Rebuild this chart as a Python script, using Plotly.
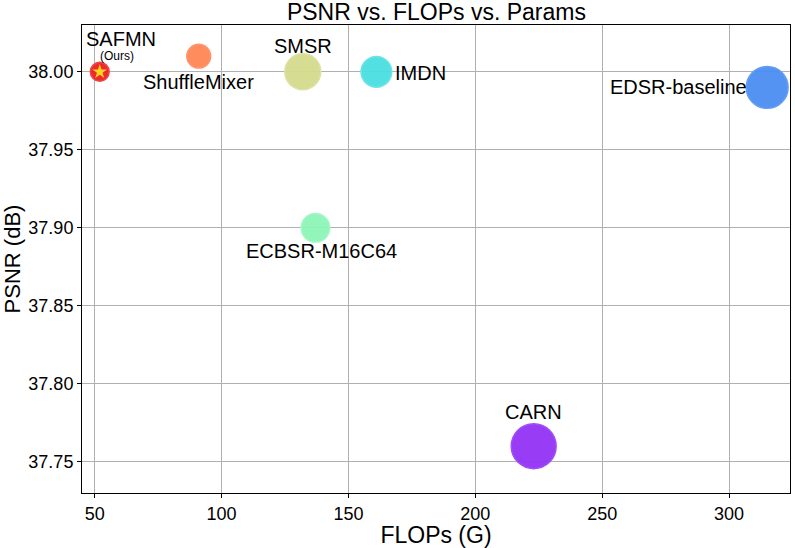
import numpy as np
import plotly.graph_objects as go

models = ["SAFMN", "ShuffleMixer", "SMSR", "IMDN", "ECBSR-M16C64", "EDSR-baseline", "CARN"]
flops = [52, 91, 132, 161, 137, 315, 223]
psnr = [38.00, 38.01, 38.00, 38.00, 37.90, 37.99, 37.76]
params_k = [228, 394, 985, 694, 596, 1370, 1592]

colors = ["rgba(236,32,36,0.95)", "rgba(255,134,84,0.95)", "rgba(212,218,140,0.95)",
          "rgba(74,222,226,0.95)", "rgba(140,244,182,0.95)", "rgba(76,141,242,0.95)",
          "rgba(146,50,246,0.95)"]
edge = ["rgb(240,70,70)", "rgb(255,150,110)", "rgb(222,226,165)", "rgb(110,228,232)",
        "rgb(165,246,200)", "rgb(100,158,244)", "rgb(160,80,250)"]

sizes = [np.sqrt(p) * 1.05 + 3 for p in params_k]

FONT = "Liberation Sans, Arial"

fig = go.Figure()
fig.add_trace(go.Scatter(
    x=flops, y=psnr, mode="markers",
    marker=dict(size=sizes, color=colors, opacity=1, line=dict(color=edge, width=1.5)),
    showlegend=False, hoverinfo="text", text=models))
fig.add_trace(go.Scatter(
    x=[flops[0]], y=[psnr[0]], mode="markers",
    marker=dict(symbol="star", size=11, color="#FFD21E", line=dict(width=0)),
    showlegend=False))

# label offsets (pixels): (xshift, yshift, xanchor)
offsets = {
    "SAFMN": (21, 33, "center"),
    "ShuffleMixer": (0, -26, "center"),
    "SMSR": (0, 26, "center"),
    "IMDN": (17, -1, "left"),
    "ECBSR-M16C64": (6, -23, "center"),
    "EDSR-baseline": (-18, 0, "right"),
    "CARN": (0, 34, "center"),
}
for m, x, y in zip(models, flops, psnr):
    dx, dy, xa = offsets[m]
    fig.add_annotation(x=x, y=y, text=m, showarrow=False, xshift=dx, yshift=dy,
                       xanchor=xa, yanchor="middle",
                       font=dict(size=20, color="black", family=FONT))
fig.add_annotation(x=flops[0], y=psnr[0], text="(Ours)", showarrow=False,
                   xshift=17, yshift=16, xanchor="center", yanchor="middle",
                   font=dict(size=12, color="black", family=FONT))

fig.update_layout(
    width=795, height=548,
    margin=dict(l=82, r=5, t=25, b=55, autoexpand=False),
    paper_bgcolor="white", plot_bgcolor="white",
    title=dict(text="PSNR vs. FLOPs vs. Params", x=0.549, xanchor="center",
               y=0.978, yanchor="middle", font=dict(size=23, color="black", family=FONT)),
    font=dict(family=FONT, color="black"),
)
fig.update_xaxes(range=[45, 324], tickvals=[50, 100, 150, 200, 250, 300],
                 showgrid=True, gridcolor="#b0b0b0", gridwidth=0.8,
                 showline=True, linecolor="black", linewidth=1, mirror=True,
                 ticks="outside", ticklen=4, tickcolor="black",
                 tickfont=dict(size=18, family=FONT), automargin=False,
                 title=dict(text="FLOPs (G)", font=dict(size=23, family=FONT), standoff=4),
                 zeroline=False)
fig.update_yaxes(range=[37.73, 38.03], tickvals=[37.75, 37.80, 37.85, 37.90, 37.95, 38.00],
                 tickformat=".2f", automargin=False,
                 showgrid=True, gridcolor="#b0b0b0", gridwidth=0.8,
                 showline=True, linecolor="black", linewidth=1, mirror=True,
                 ticks="outside", ticklen=4, tickcolor="black",
                 tickfont=dict(size=18, family=FONT),
                 title=dict(text="PSNR (dB)", font=dict(size=22, family=FONT), standoff=4),
                 zeroline=False)

fig.write_html("out.html", config={"displayModeBar": False},
               post_script="document.body.style.margin='0';document.body.style.overflow='hidden';")
